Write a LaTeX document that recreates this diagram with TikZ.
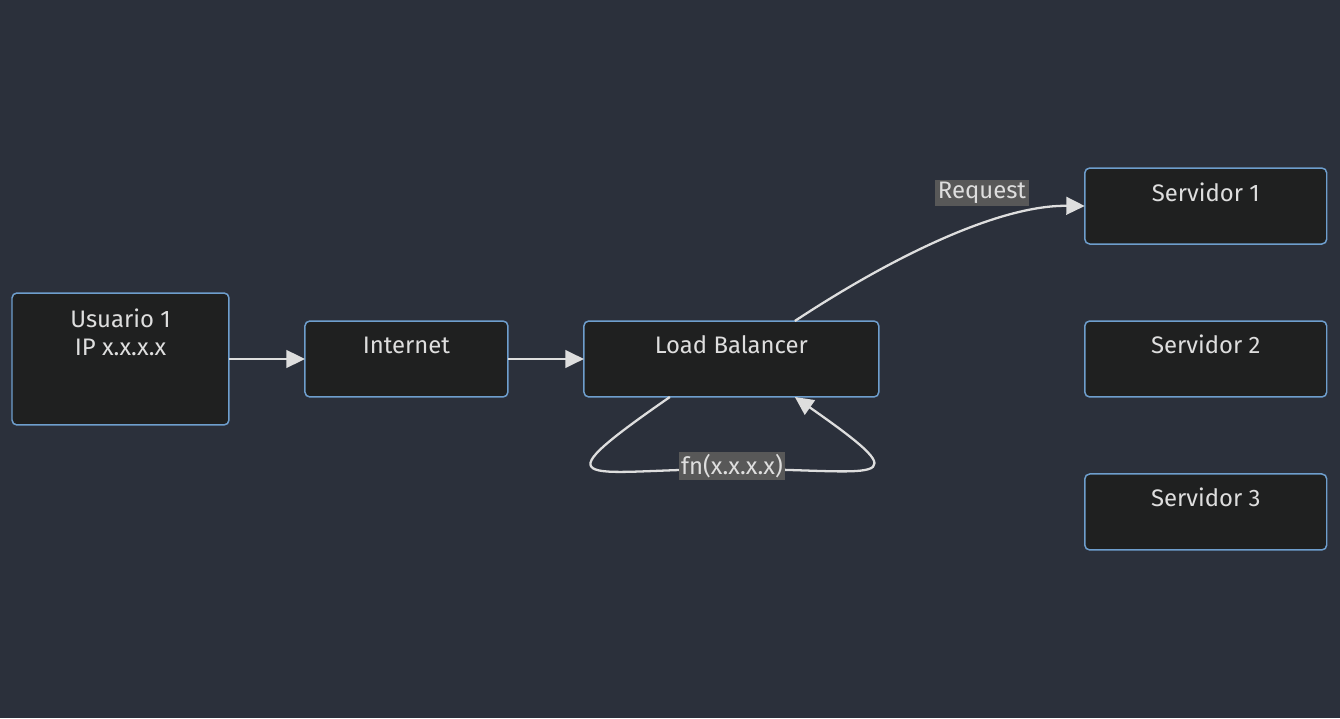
\documentclass[tikz,border=0pt]{standalone}
\usepackage{fontspec}
\setmainfont{Fira Sans}
\usetikzlibrary{arrows.meta, positioning}
\definecolor{bgdark}{RGB}{43,48,59}
\definecolor{boxfill}{RGB}{31,32,32}
\definecolor{boxline}{RGB}{110,158,205}
\definecolor{textgray}{RGB}{222,222,222}
\definecolor{lblfill}{RGB}{88,88,88}
\definecolor{edgegray}{RGB}{222,222,222}

\tikzset{
  hostbox/.style={draw=boxline, line width=0.85pt, fill=boxfill, rounded corners=2.8pt,
    text=textgray, inner sep=0pt, outer sep=0pt, align=center, text height=0.66cm, text depth=0.86cm},
  flow/.style={draw=edgegray, line width=1.3pt, -{Triangle[length=10.5pt, width=10pt]}},
  edgelbl/.style={fill=lblfill, text=textgray, inner xsep=1.5pt, inner ysep=1pt}
}

\begin{document}
\begin{tikzpicture}[x=0.02cm, y=-0.02cm, font=\fontsize{13.6}{16.5}\selectfont]
\fill[bgdark] (0,0) rectangle (1340,718);
% hosts
\node[hostbox, minimum width=4.34cm, text height=1.26cm, text depth=1.38cm, anchor=north west] (usu) at (12,293) {Usuario 1\\IP x.x.x.x};
\node[hostbox, minimum width=4.06cm, right=1.52cm of usu] (inet) {Internet};
\node[hostbox, minimum width=5.9cm, right=1.52cm of inet] (lb) {Load Balancer};
\node[hostbox, minimum width=4.84cm, right=4.12cm of lb] (srv2) {Servidor 2};
\node[hostbox, minimum width=4.84cm, above=1.54cm of srv2] (srv1) {Servidor 1};
\node[hostbox, minimum width=4.84cm, below=1.54cm of srv2] (srv3) {Servidor 3};
% connectors
\draw[flow] (usu) -- (inet);
\draw[flow] (inet) -- (lb);
\draw[flow] ([xshift=1.27cm]lb.north) .. controls (895,255) and (1000,205) .. (srv1.west);
\node[edgelbl] (req) at (982,193) {Request};
\draw[flow] ([xshift=-1.23cm]lb.south) .. controls (530,494) and (590,469) .. (732,469)
  .. controls (874,469) and (928,490) .. ([xshift=1.27cm]lb.south);
\node[edgelbl] (fn) at (732,466) {fn(x.x.x.x)};
\end{tikzpicture}
\end{document}
